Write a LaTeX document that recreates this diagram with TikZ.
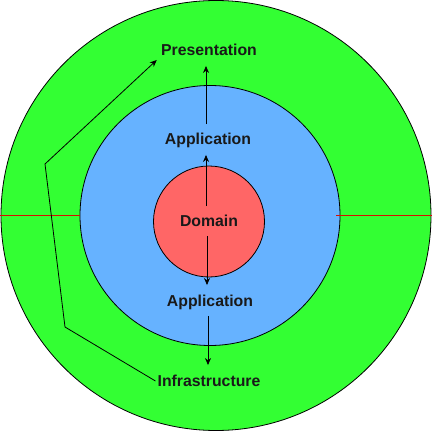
\documentclass[tikz,border=0pt]{standalone}
\usepackage{fontspec}
\setmainfont{Liberation Sans}
\usetikzlibrary{arrows.meta}

\definecolor{ringgreen}{HTML}{33FF33}
\definecolor{ringblue}{HTML}{66B2FF}
\definecolor{ringred}{HTML}{FF6666}
\definecolor{splitred}{rgb}{0.85,0.05,0}

\begin{document}
\begin{tikzpicture}[x=1pt,y=-1pt,>={Stealth[length=7pt,width=6pt]},
	layer/.style={font=\bfseries\fontsize{15.8}{18}\selectfont,text=black!90,
		text height=11.5pt,text depth=0pt,inner sep=2pt},
	ring/.style={draw=black,line width=0.8pt},
	splitline/.style={draw={rgb,255:red,217;green,13;blue,0},line width=1.2pt},
	link/.style={->,line width=0.8pt,shorten <=7pt,shorten >=8pt}]

\useasboundingbox (0,0) rectangle (432,431);

% rings
\filldraw[ring,fill=ringgreen] (216,215.5) circle (215);
\filldraw[ring,fill=ringblue] (210,215.5) circle (130);
\filldraw[ring,fill=ringred] (209,221.5) circle (55.5);

% split lines
\coordinate (l0) at (0,215.5);
\coordinate (l1) at (80,215.5);
\coordinate (r0) at (336,215.5);
\coordinate (r1) at (432,215.5);
\draw[splitline] (l0) -- (l1);
\draw[splitline] (r0) -- (r1);

% labels
\node[layer]   (pres)   at (209,50)      {Presentation};
\node[layer]   (app1)   at (208,139)     {Application};
\node[layer]   (dom)    at (209,221)     {Domain};
\node[layer]   (app2)   at (210,301)     {Application};
\node[layer]   (infra)  at (209,381)     {Infrastructure};

\coordinate (b1) at (65,327);
\coordinate (b2) at (45,164);

	\path[link] ([xshift=-3pt]dom.north)  edge 	([xshift=-2pt]app1.south)
						([xshift=-2pt]app1.north)  edge 	([xshift=-3pt]pres.south)
						([xshift=-2pt]dom.south)  edge 	([xshift=-3pt]app2.north)
						([xshift=-2pt]app2.south)  edge 	([xshift=-1pt]infra.north);

	\draw[->,line width=0.8pt,shorten >=3pt] (infra.west) -- (b1) -- (b2) -- (pres.south west);

	\end{tikzpicture}
\end{document}
